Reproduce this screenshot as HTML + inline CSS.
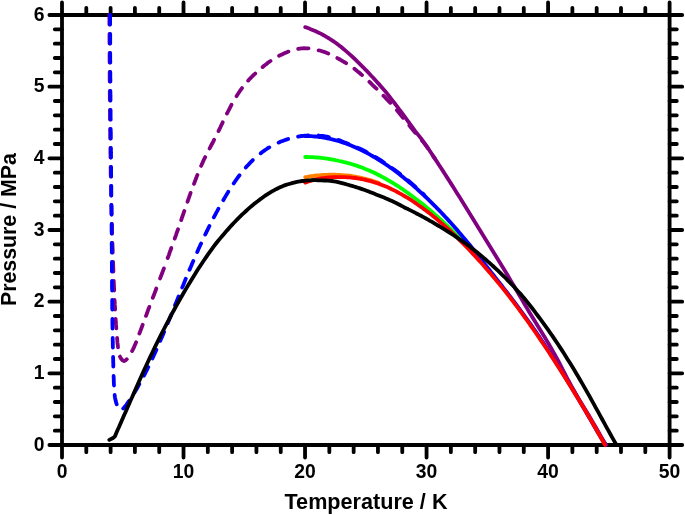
<!DOCTYPE html>
<html lang="en"><head><meta charset="utf-8"><title>Pressure / MPa vs Temperature / K</title>
<style>html,body{margin:0;padding:0;background:#fff;overflow:hidden}svg{display:block}</style>
</head><body>
<svg width="685" height="515" viewBox="0 0 685 515">
<rect width="685" height="515" fill="#fff"/>
<path d="M62.00,445.0v12.6M62.00,15.0v-12.6M86.30,445.0v7.2M86.30,15.0v-7.2M110.61,445.0v7.2M110.61,15.0v-7.2M134.91,445.0v7.2M134.91,15.0v-7.2M159.22,445.0v7.2M159.22,15.0v-7.2M183.52,445.0v12.6M183.52,15.0v-12.6M207.82,445.0v7.2M207.82,15.0v-7.2M232.13,445.0v7.2M232.13,15.0v-7.2M256.43,445.0v7.2M256.43,15.0v-7.2M280.74,445.0v7.2M280.74,15.0v-7.2M305.04,445.0v12.6M305.04,15.0v-12.6M329.34,445.0v7.2M329.34,15.0v-7.2M353.65,445.0v7.2M353.65,15.0v-7.2M377.95,445.0v7.2M377.95,15.0v-7.2M402.26,445.0v7.2M402.26,15.0v-7.2M426.56,445.0v12.6M426.56,15.0v-12.6M450.86,445.0v7.2M450.86,15.0v-7.2M475.17,445.0v7.2M475.17,15.0v-7.2M499.47,445.0v7.2M499.47,15.0v-7.2M523.78,445.0v7.2M523.78,15.0v-7.2M548.08,445.0v12.6M548.08,15.0v-12.6M572.38,445.0v7.2M572.38,15.0v-7.2M596.69,445.0v7.2M596.69,15.0v-7.2M620.99,445.0v7.2M620.99,15.0v-7.2M645.30,445.0v7.2M645.30,15.0v-7.2M669.60,445.0v12.6M669.60,15.0v-12.6M62.0,445.00h-12.6M669.6,445.00h12.6M62.0,430.67h-7.2M669.6,430.67h7.2M62.0,416.33h-7.2M669.6,416.33h7.2M62.0,402.00h-7.2M669.6,402.00h7.2M62.0,387.67h-7.2M669.6,387.67h7.2M62.0,373.33h-12.6M669.6,373.33h12.6M62.0,359.00h-7.2M669.6,359.00h7.2M62.0,344.67h-7.2M669.6,344.67h7.2M62.0,330.33h-7.2M669.6,330.33h7.2M62.0,316.00h-7.2M669.6,316.00h7.2M62.0,301.67h-12.6M669.6,301.67h12.6M62.0,287.33h-7.2M669.6,287.33h7.2M62.0,273.00h-7.2M669.6,273.00h7.2M62.0,258.67h-7.2M669.6,258.67h7.2M62.0,244.33h-7.2M669.6,244.33h7.2M62.0,230.00h-12.6M669.6,230.00h12.6M62.0,215.67h-7.2M669.6,215.67h7.2M62.0,201.33h-7.2M669.6,201.33h7.2M62.0,187.00h-7.2M669.6,187.00h7.2M62.0,172.67h-7.2M669.6,172.67h7.2M62.0,158.33h-12.6M669.6,158.33h12.6M62.0,144.00h-7.2M669.6,144.00h7.2M62.0,129.67h-7.2M669.6,129.67h7.2M62.0,115.33h-7.2M669.6,115.33h7.2M62.0,101.00h-7.2M669.6,101.00h7.2M62.0,86.67h-12.6M669.6,86.67h12.6M62.0,72.33h-7.2M669.6,72.33h7.2M62.0,58.00h-7.2M669.6,58.00h7.2M62.0,43.67h-7.2M669.6,43.67h7.2M62.0,29.33h-7.2M669.6,29.33h7.2M62.0,15.00h-12.6M669.6,15.00h12.6" stroke="#000" stroke-width="3.8" stroke-linecap="round" fill="none"/>
<rect x="62.0" y="15.0" width="607.6" height="430.0" fill="none" stroke="#000" stroke-width="3.8" stroke-linejoin="round"/>
<g fill="none" stroke-width="3.8" stroke-linecap="round" stroke-linejoin="round">
<path d="M109.4,15.0 L109.4,17.3 L109.4,19.5 L109.4,21.8 L109.4,24.1 L109.4,24.5M109.5,34.0 L109.5,35.3 L109.5,37.6 L109.5,39.9 L109.5,42.1 L109.5,43.5M109.6,53.0 L109.6,53.4 L109.6,55.7 L109.6,57.9 L109.6,60.2 L109.6,62.4 L109.6,62.5M109.7,72.0 L109.7,73.8 L109.7,76.0 L109.7,78.3 L109.7,80.5 L109.7,81.5M109.8,91.0 L109.8,91.9 L109.8,94.1 L109.8,96.4 L109.8,98.6 L109.9,100.5M109.9,110.0 L110.0,112.2 L110.0,114.5 L110.0,116.8 L110.0,119.0 L110.0,119.5M110.1,129.0 L110.1,130.4 L110.2,132.6 L110.2,134.9 L110.2,137.1 L110.2,138.5M110.4,148.0 L110.4,148.5 L110.4,150.7 L110.4,153.0 L110.5,155.3 L110.5,157.5M110.6,167.0 L110.7,168.9 L110.7,171.1 L110.7,173.4 L110.8,175.7 L110.8,176.5M111.0,186.0 L111.0,187.0 L111.0,189.2 L111.1,191.5 L111.1,193.8 L111.2,195.5M111.4,205.0 L111.4,205.1 L111.4,207.3 L111.5,209.6 L111.5,211.9 L111.6,214.1 L111.6,214.5M111.9,224.0 L111.9,225.4 L112.0,227.7 L112.0,230.0 L112.1,232.2 L112.1,233.5M112.4,243.0 L112.4,243.5 L112.5,245.8 L112.6,248.0 L112.7,250.3 L112.7,252.5M113.1,262.0 L113.1,263.8 L113.2,266.1 L113.3,268.3 L113.4,270.6 L113.4,271.5M113.8,281.0 L113.8,281.9 L113.9,284.1 L114.0,286.4 L114.1,288.6 L114.2,290.5M114.6,300.0 L114.7,302.1 L114.8,304.4 L115.0,306.6 L115.1,308.9 L115.1,309.5M115.6,318.9 L115.7,320.1 L115.9,322.4 L116.0,324.7 L116.2,326.9 L116.3,328.4M117.1,337.9 L117.1,338.4 L117.3,340.7 L117.5,343.0 L117.8,345.3 L118.0,347.4M120.0,356.6 L120.1,356.8 L121.2,358.8 L122.6,360.4 L124.1,361.1 L125.5,360.4 L126.8,359.2M132.1,351.0 L132.7,349.9 L133.7,347.9 L134.6,345.8 L135.5,343.7 L136.1,342.3M139.4,333.5 L139.7,332.8 L140.5,330.6 L141.3,328.5 L142.1,326.3 L142.7,324.7M146.0,315.9 L146.1,315.6 L146.9,313.5 L147.6,311.4 L148.4,309.3 L149.2,307.2 L149.3,306.9M152.8,297.8 L153.2,296.8 L154.0,294.7 L154.8,292.6 L155.6,290.5 L156.3,288.5M160.1,278.5 L160.3,277.9 L161.1,275.8 L161.9,273.7 L162.7,271.6 L163.5,269.5 L163.9,268.4M167.7,258.0 L168.2,256.7 L169.0,254.6 L169.7,252.4 L170.5,250.3 L171.3,248.2 L171.3,248.0M174.7,238.6 L175.1,237.5 L175.9,235.3 L176.6,233.2 L177.4,231.0 L178.0,229.3M181.2,220.1 L181.8,218.2 L182.6,216.0 L183.3,213.9 L184.0,211.8 L184.3,211.0M187.5,201.9 L187.7,201.1 L188.5,199.0 L189.2,196.9 L189.9,194.8 L190.6,192.9M194.0,183.9 L194.6,182.2 L195.4,180.1 L196.2,178.0 L197.0,175.9 L197.4,174.9M201.1,165.9 L201.3,165.5 L202.2,163.5 L203.1,161.4 L204.1,159.3 L205.1,157.3 L205.2,157.1M209.6,148.5 L210.3,147.1 L211.4,145.0 L212.5,143.0 L213.6,140.9 L214.1,139.8M218.5,131.1 L218.6,130.8 L219.6,128.8 L220.6,126.8 L221.5,124.8 L222.5,122.8 L222.7,122.3M227.0,113.5 L227.3,113.0 L228.3,111.0 L229.3,109.1 L230.3,107.1 L231.3,105.2 L231.5,104.8M236.5,96.2 L236.9,95.6 L238.1,93.7 L239.4,91.8 L240.7,89.9 L242.0,88.1M248.2,80.6 L249.4,79.3 L251.0,77.6 L252.6,76.0 L254.3,74.4 L255.2,73.6M262.6,67.1 L262.7,67.0 L264.4,65.5 L266.2,64.2 L267.9,62.8 L269.7,61.5 L270.5,61.0M279.1,55.8 L280.9,54.9 L282.9,54.0 L284.9,53.1 L287.0,52.2 L288.4,51.6M298.2,48.9 L299.7,48.6 L301.9,48.3 L304.1,48.2 L306.3,48.3 L308.5,48.4M318.6,50.3 L319.8,50.5 L322.0,51.2 L324.2,51.9 L326.4,52.7 L328.3,53.5M337.3,58.1 L339.0,59.0 L341.0,60.2 L343.0,61.4 L345.0,62.5 L346.1,63.2M354.4,68.8 L355.9,70.0 L357.6,71.4 L359.4,72.8 L361.0,74.2 L362.1,75.1M369.4,81.8 L370.8,83.2 L372.4,84.8 L374.0,86.3 L375.6,87.9 L376.5,88.7M383.4,95.8 L383.6,95.9 L385.2,97.5 L386.7,99.1 L388.3,100.8 L389.9,102.4 L390.3,102.8M396.9,110.2 L397.0,110.4 L399.0,112.8 L401.0,115.3 L403.0,117.7 L403.1,117.8M409.3,125.4 L411.0,127.6 L413.0,130.1 L415.0,132.5 L415.5,133.0M421.9,140.4 L423.0,141.7 L425.0,144.3 L427.0,146.9 L427.9,148.2M433.3,156.2 L435.0,158.8" stroke="#800080"/>
<path d="M110.1,15.0 L110.1,17.0 L110.1,18.9 L110.1,20.9 L110.1,22.8 L110.1,24.5M110.2,34.0 L110.2,34.6 L110.2,36.5 L110.2,38.5 L110.2,40.4 L110.2,42.4 L110.2,43.5M110.2,53.0 L110.2,54.1 L110.2,56.1 L110.2,58.0 L110.2,60.0 L110.3,61.9 L110.3,62.5M110.3,72.0 L110.3,73.7 L110.3,75.6 L110.3,77.6 L110.4,79.6 L110.4,81.5 L110.4,81.5M110.4,91.0 L110.4,91.3 L110.4,93.3 L110.5,95.3 L110.5,97.2 L110.5,99.2 L110.5,100.5M110.6,110.0 L110.6,111.0 L110.6,112.9 L110.6,114.9 L110.6,116.9 L110.6,118.8 L110.7,119.5M110.7,129.0 L110.7,130.6 L110.8,132.6 L110.8,134.5 L110.8,136.5 L110.8,138.5 L110.8,138.5M110.9,148.0 L110.9,148.3 L110.9,150.2 L110.9,152.2 L111.0,154.2 L111.0,156.1 L111.0,157.5M111.1,167.0 L111.1,167.9 L111.1,169.9 L111.1,171.8 L111.1,173.8 L111.2,175.8 L111.2,176.5M111.3,186.0 L111.3,187.5 L111.3,189.5 L111.3,191.5 L111.3,193.4 L111.3,195.4 L111.3,195.5M111.4,205.0 L111.4,205.2 L111.5,207.2 L111.5,209.1 L111.5,211.1 L111.5,213.0 L111.5,214.5M111.6,224.0 L111.6,224.8 L111.6,226.7 L111.6,228.7 L111.6,230.6 L111.7,232.6 L111.7,233.5M111.7,243.0 L111.7,244.3 L111.8,246.3 L111.8,248.2 L111.8,250.2 L111.8,252.1 L111.8,252.5M111.9,262.0 L111.9,263.8 L111.9,265.8 L111.9,267.7 L111.9,269.7 L111.9,271.5M112.0,281.0 L112.0,281.4 L112.0,283.3 L112.0,285.3 L112.0,287.2 L112.1,289.2 L112.1,290.5M112.2,300.0 L112.2,300.9 L112.2,302.8 L112.2,304.8 L112.2,306.7 L112.2,308.7 L112.3,309.5M112.4,319.0 L112.4,320.4 L112.4,322.4 L112.4,324.3 L112.5,326.3 L112.5,328.3 L112.5,328.5M112.7,338.0 L112.7,338.1 L112.7,340.1 L112.8,342.0 L112.8,344.0 L112.8,346.0 L112.9,347.5M113.1,357.0 L113.1,357.9 L113.2,359.8 L113.2,361.8 L113.3,363.8 L113.3,365.8 L113.3,366.5M113.6,376.0 L113.7,377.8 L113.8,379.8 L113.8,381.8 L113.9,383.8 L114.0,385.5M114.7,395.0 L114.7,395.7 L115.0,397.6 L115.4,399.5 L115.8,401.3 L116.3,403.2 L116.7,404.3M123.2,408.5 L123.9,407.8 L125.2,406.3 L126.5,404.6 L127.7,402.9 L128.9,401.2 L129.2,400.8M134.5,392.6 L135.5,390.9 L136.5,389.2 L137.5,387.5 L138.5,385.7 L139.3,384.2M143.9,375.7 L144.2,375.3 L145.1,373.5 L146.0,371.7 L146.9,370.0 L147.7,368.2 L148.3,367.1M152.4,358.4 L152.9,357.6 L153.7,355.8 L154.5,354.0 L155.3,352.2 L156.1,350.4 L156.4,349.7M160.3,340.9 L160.8,339.6 L161.6,337.8 L162.4,336.0 L163.1,334.2 L163.9,332.4 L164.1,332.0M167.7,323.1 L168.4,321.6 L169.1,319.8 L169.9,318.0 L170.6,316.2 L171.3,314.3 L171.4,314.3M175.0,305.3 L175.0,305.3 L175.7,303.5 L176.5,301.7 L177.2,299.9 L177.9,298.1 L178.6,296.4M182.2,287.5 L182.3,287.3 L183.1,285.5 L183.8,283.7 L184.5,281.9 L185.3,280.1 L185.8,278.7M189.5,269.8 L189.8,269.3 L190.5,267.5 L191.3,265.7 L192.0,263.9 L192.8,262.1 L193.3,260.9M197.2,252.1 L197.5,251.4 L198.3,249.6 L199.1,247.8 L199.9,246.0 L200.7,244.3 L201.1,243.4M205.2,234.6 L205.7,233.7 L206.5,231.9 L207.4,230.1 L208.3,228.4 L209.1,226.6 L209.4,226.0M213.8,217.4 L214.5,216.1 L215.4,214.4 L216.3,212.6 L217.3,210.9 L218.2,209.2 L218.4,208.8M223.3,200.2 L224.1,198.8 L225.1,197.1 L226.1,195.4 L227.1,193.7 L228.2,192.0 L228.3,191.7M233.7,183.4 L234.7,182.0 L235.8,180.3 L237.0,178.7 L238.1,177.1 L239.3,175.5 L239.5,175.3M245.8,167.5 L246.7,166.4 L248.1,165.0 L249.4,163.6 L250.7,162.2 L252.1,160.8 L252.8,160.1M260.7,153.3 L260.8,153.2 L262.3,152.0 L263.9,150.9 L265.5,149.8 L267.1,148.7 L268.7,147.7 L269.3,147.4M278.6,142.6 L279.0,142.4 L280.8,141.6 L282.6,140.9 L284.5,140.2 L286.3,139.6 L288.1,139.0 L288.2,139.0M298.1,136.6 L299.5,136.3 L301.5,136.0 L303.4,135.8 L305.3,135.6 L307.3,135.5 L308.4,135.4M318.7,135.5 L319.1,135.6 L321.0,135.8 L323.0,136.0 L324.9,136.3 L326.9,136.7 L328.8,137.1 L328.9,137.1M338.7,140.0 L340.3,140.6 L342.2,141.4 L344.1,142.2 L346.1,142.9 L348.1,143.7 L348.2,143.7M357.6,147.7 L358.1,147.9 L360.1,148.8 L362.1,149.8 L364.1,150.8 L366.1,151.8 L366.7,152.1M375.5,157.1 L376.1,157.5 L378.1,158.7 L380.1,159.9 L382.1,161.2 L384.0,162.5M392.2,168.2 L394.1,169.5 L396.1,171.0 L398.1,172.5 L400.1,174.1 L400.2,174.2M408.0,180.5 L408.1,180.5 L410.1,182.2 L412.1,183.9 L414.1,185.7 L415.5,187.0M422.9,193.6 L424.1,194.8" stroke="#0000ff"/>
<path d="M305.2,157.0 L307.2,157.0 L309.2,157.1 L311.2,157.1 L313.2,157.2 L315.2,157.4 L317.2,157.5 L319.2,157.7 L321.2,157.9 L323.2,158.1 L325.2,158.4 L327.2,158.7 L329.2,159.0 L331.2,159.3 L333.2,159.7 L335.2,160.1 L337.2,160.5 L339.2,161.0 L341.2,161.4 L343.2,161.9 L345.2,162.3 L347.2,162.9 L349.2,163.4 L351.2,164.0 L353.2,164.6 L355.2,165.2 L357.2,165.9 L359.2,166.6 L361.2,167.3 L363.2,168.1 L365.2,168.9 L367.2,169.7 L369.2,170.5 L371.2,171.4 L373.2,172.3 L375.2,173.3 L377.2,174.3 L379.2,175.3 L381.2,176.3 L383.2,177.4 L385.2,178.5 L387.2,179.6 L389.2,180.8 L391.2,182.0 L393.2,183.2 L395.2,184.5 L397.2,185.7 L399.2,187.0 L401.2,188.4 L403.2,189.7 L405.2,191.1 L407.2,192.5 L409.2,193.9 L411.2,195.4 L413.2,196.9 L415.2,198.4 L417.2,199.9 L419.2,201.5 L421.2,203.1 L423.2,204.6 L425.2,206.2 L427.2,207.9 L429.2,209.5 L431.2,211.2 L433.2,212.9 L435.2,214.7 L437.2,216.4 L439.2,218.2 L441.2,220.0 L443.2,221.9 L445.2,223.8 L447.2,225.6 L449.2,227.6 L451.2,229.5 L453.2,231.5 L455.2,233.5 L457.2,235.5 L459.2,237.5 L461.2,239.6 L463.2,241.7 L465.2,243.8 L467.2,245.9 L469.2,248.1 L471.2,250.3 L473.2,252.5 L475.2,254.8 L477.2,257.0 L479.2,259.3 L481.2,261.6 L483.2,264.0 L485.2,266.3 L487.2,268.7 L489.2,271.1 L490.0,272.1" stroke="#00ff00"/>
<path d="M305.2,136.0 L307.2,136.0 L309.2,136.1 L311.2,136.2 L313.2,136.3 L315.2,136.5 L317.2,136.7 L319.2,137.0 L321.2,137.2 L323.2,137.5 L325.2,137.9 L327.2,138.3 L329.2,138.7 L331.2,139.2 L333.2,139.6 L335.2,140.2 L337.2,140.7 L339.2,141.3 L341.2,142.0 L343.2,142.6 L345.2,143.3 L347.2,144.0 L349.2,144.8 L351.2,145.6 L353.2,146.4 L355.2,147.3 L357.2,148.2 L359.2,149.1 L361.2,150.1 L363.2,151.0 L365.2,152.1 L367.2,153.1 L369.2,154.2 L371.2,155.3 L373.2,156.5 L375.2,157.6 L377.2,158.8 L379.2,160.1 L381.2,161.4 L383.2,162.7 L385.2,164.0 L387.2,165.3 L389.2,166.7 L391.2,168.1 L393.2,169.6 L395.2,171.1 L397.2,172.6 L399.2,174.1 L401.2,175.7 L403.2,177.3 L405.2,178.9 L407.2,180.5 L409.2,182.2 L411.2,183.9 L413.2,185.6 L415.2,187.4 L417.2,189.1 L419.2,191.0 L421.2,192.8 L423.2,194.6 L425.2,196.5 L427.2,198.4 L429.2,200.4 L431.2,202.3 L433.2,204.3 L435.2,206.3 L437.2,208.4 L439.2,210.4 L441.2,212.5 L443.2,214.6 L445.2,216.8 L447.2,218.9 L449.2,221.1 L451.2,223.3 L453.2,225.5 L455.2,227.8 L457.2,230.1 L459.2,232.4 L461.2,234.7 L463.2,237.1 L465.2,239.5 L467.2,241.9 L469.2,244.3 L471.2,246.8 L473.2,249.3 L475.2,251.8 L477.2,254.4 L479.2,257.0 L481.2,259.6 L483.2,262.1 L485.2,264.7 L487.2,267.2 L489.2,269.7 L491.2,272.3 L493.2,274.8 L495.2,277.4 L497.2,279.9 L499.2,282.5 L501.2,285.0 L503.2,287.6 L505.2,290.1 L507.2,292.7 L509.2,295.3 L511.2,297.9 L513.2,300.6 L515.2,303.2 L517.2,305.9 L519.2,308.6 L521.2,311.3 L523.2,314.1 L525.2,316.8 L527.2,319.6 L529.2,322.4 L531.2,325.2 L533.2,328.0 L535.2,330.9 L537.2,333.8 L539.2,336.7 L541.2,339.7 L543.2,342.6 L545.2,345.7 L547.2,348.7 L549.2,351.8 L551.2,354.9 L553.2,358.0 L555.2,361.2 L557.2,364.4 L559.2,367.6 L561.2,370.8 L563.2,374.0 L565.2,377.2 L567.2,380.5 L569.2,383.7 L571.2,387.0 L573.2,390.3 L575.2,393.6 L577.2,396.9 L579.2,400.3 L581.2,403.7 L583.2,407.1 L585.2,410.6 L587.2,414.0 L589.2,417.5 L591.2,420.9 L593.2,424.4 L595.2,427.8 L597.2,431.2 L599.2,434.5 L601.2,437.7 L603.2,440.8 L605.2,443.7 L606.0,444.9" stroke="#0000ff"/>
<path d="M305.2,27.1 L307.2,27.8 L309.2,28.6 L311.2,29.4 L313.2,30.2 L315.2,31.1 L317.2,32.0 L319.2,32.9 L321.2,33.9 L323.2,35.0 L325.2,36.1 L327.2,37.3 L329.2,38.5 L331.2,39.8 L333.2,41.1 L335.2,42.5 L337.2,43.9 L339.2,45.4 L341.2,47.0 L343.2,48.7 L345.2,50.4 L347.2,52.1 L349.2,53.9 L351.2,55.7 L353.2,57.5 L355.2,59.4 L357.2,61.4 L359.2,63.3 L361.2,65.3 L363.2,67.3 L365.2,69.4 L367.2,71.4 L369.2,73.5 L371.2,75.7 L373.2,77.8 L375.2,80.0 L377.2,82.2 L379.2,84.4 L381.2,86.7 L383.2,89.0 L385.2,91.3 L387.2,93.7 L389.2,96.2 L391.2,98.8 L393.2,101.4 L395.2,104.0 L397.2,106.7 L399.2,109.3 L401.2,112.0 L403.2,114.7 L405.2,117.4 L407.2,120.1 L409.2,122.9 L411.2,125.6 L413.2,128.4 L415.2,131.1 L417.2,133.6 L419.2,136.1 L421.2,138.6 L423.2,141.3 L425.2,144.1 L427.2,147.1 L429.2,150.0 L431.2,153.0 L433.2,156.1 L435.2,159.1 L437.2,162.1 L439.2,165.2 L441.2,168.3 L443.2,171.4 L445.2,174.5 L447.2,177.6 L449.2,180.8 L451.2,183.9 L453.2,187.1 L455.2,190.2 L457.2,193.4 L459.2,196.6 L461.2,199.8 L463.2,203.0 L465.2,206.3 L467.2,209.5 L469.2,212.7 L471.2,215.9 L473.2,219.2 L475.2,222.4 L477.2,225.7 L479.2,228.9 L481.2,232.2 L483.2,235.4 L485.2,238.7 L487.2,242.0 L489.2,245.2 L491.2,248.5 L493.2,251.8 L495.2,255.0 L497.2,258.3 L499.2,261.5 L501.2,264.8 L503.2,268.1 L505.2,271.3 L507.2,274.6 L509.2,278.0 L511.2,281.4 L513.2,284.8 L515.2,288.2 L517.2,291.6 L519.2,295.0 L521.2,298.4 L523.2,301.8 L525.2,305.2 L527.2,308.6 L529.2,312.0 L531.2,315.3 L533.2,318.6 L535.2,321.8 L537.2,325.0 L539.2,328.3 L541.2,331.5 L543.2,334.7 L545.2,338.0 L547.2,341.4 L549.2,344.8 L551.2,348.2 L553.2,351.8 L555.2,355.3 L557.2,359.0 L559.2,362.7 L561.2,366.6 L563.2,370.5 L565.2,374.4 L567.2,378.3 L569.2,382.0 L571.2,385.6 L573.2,389.2 L575.2,392.7 L577.2,396.2 L579.2,399.6 L581.2,402.9 L583.2,406.2 L585.2,409.5 L587.2,412.8 L589.2,416.1 L591.2,419.5 L593.2,422.9 L595.2,426.3 L597.2,429.7 L599.2,433.2 L601.2,436.8 L603.2,440.4 L605.2,444.1 L605.8,445.2" stroke="#800080"/>
<path d="M305.2,177.2 L307.2,176.9 L309.2,176.5 L311.2,176.2 L313.2,176.0 L315.2,175.7 L317.2,175.5 L319.2,175.3 L321.2,175.1 L323.2,175.0 L325.2,174.9 L327.2,174.8 L329.2,174.7 L331.2,174.7 L333.2,174.7 L335.2,174.7 L337.2,174.8 L339.2,174.8 L341.2,175.0 L343.2,175.1 L345.2,175.3 L347.2,175.5 L349.2,175.7 L351.2,176.0 L353.2,176.3 L355.2,176.6 L357.2,177.0 L359.2,177.4 L361.2,177.8 L363.2,178.3 L365.2,178.7 L367.2,179.3 L369.2,179.8 L371.2,180.4 L373.2,181.0 L375.2,181.7 L377.2,182.4 L379.0,183.0" stroke="#ff8000"/>
<path d="M305.2,182.6 L307.2,181.9 L309.2,181.3 L311.2,180.7 L313.2,180.1 L315.2,179.6 L317.2,179.2 L319.2,178.8 L321.2,178.4 L323.2,178.1 L325.2,177.8 L327.2,177.6 L329.2,177.4 L331.2,177.3 L333.2,177.2 L335.2,177.1 L337.2,177.1 L339.2,177.1 L341.2,177.1 L343.2,177.1 L345.2,177.2 L347.2,177.3 L349.2,177.4 L351.2,177.6 L353.2,177.8 L355.2,178.0 L357.2,178.3 L359.2,178.7 L361.2,179.0 L363.2,179.4 L365.2,179.8 L367.2,180.3 L369.2,180.8 L371.2,181.4 L373.2,182.0 L375.2,182.6 L377.2,183.2 L379.2,183.9 L381.2,184.7 L383.2,185.5 L385.2,186.3 L387.2,187.1 L389.2,188.0 L391.2,189.0 L393.2,189.9 L395.2,190.9 L397.2,192.0 L399.2,193.1 L401.2,194.2 L403.2,195.3 L405.2,196.5 L407.2,197.7 L409.2,198.9 L411.2,200.2 L413.2,201.5 L415.2,202.9 L417.2,204.3 L419.2,205.7 L421.2,207.1 L423.2,208.6 L425.2,210.0 L427.2,211.5 L429.2,213.1 L431.2,214.6 L433.2,216.2 L435.2,217.8 L437.2,219.5 L439.2,221.2 L441.2,222.9 L443.2,224.6 L445.2,226.4 L447.2,228.2 L449.2,230.0 L451.2,231.9 L453.2,233.8 L455.2,235.7 L457.2,237.6 L459.2,239.6 L461.2,241.6 L463.2,243.6 L465.2,245.6 L467.2,247.7 L469.2,249.8 L471.2,251.9 L473.2,254.1 L475.2,256.2 L477.2,258.4 L479.2,260.6 L481.2,262.8 L483.2,265.1 L485.2,267.4 L487.2,269.7 L489.2,272.0 L491.2,274.3 L493.2,276.7 L495.2,279.1 L497.2,281.5 L499.2,283.9 L501.2,286.4 L503.2,288.8 L505.2,291.3 L507.2,293.9 L509.2,296.4 L511.2,299.0 L513.2,301.6 L515.2,304.3 L517.2,306.9 L519.2,309.6 L521.2,312.3 L523.2,315.1 L525.2,317.8 L527.2,320.6 L529.2,323.4 L531.2,326.3 L533.2,329.1 L535.2,332.0 L537.2,334.9 L539.2,337.9 L541.2,340.8 L543.2,343.8 L545.2,346.8 L547.2,349.8 L549.2,352.8 L551.2,355.9 L553.2,359.0 L555.2,362.0 L557.2,365.2 L559.2,368.3 L561.2,371.4 L563.2,374.6 L565.2,377.8 L567.2,381.0 L569.2,384.2 L571.2,387.4 L573.2,390.7 L575.2,394.0 L577.2,397.3 L579.2,400.6 L581.2,403.9 L583.2,407.3 L585.2,410.6 L587.2,414.0 L589.2,417.4 L591.2,420.8 L593.2,424.3 L595.2,427.7 L597.2,431.2 L599.2,434.7 L601.2,438.2 L603.2,441.7 L605.0,444.9" stroke="#ff0000"/>
<path d="M109.3,439.9 L113.0,438.0 L113.4,437.7 L113.8,437.4 L114.2,437.1 L114.6,436.7 L114.9,436.2 L115.2,435.7 L115.4,435.2 L116.3,433.0 L117.6,430.0 L119.0,427.0 L120.3,424.0 L121.6,421.0 L122.9,418.0 L124.2,415.0 L125.6,412.0 L126.9,409.0 L128.2,406.0 L129.5,403.0 L130.8,400.0 L132.2,397.0 L133.5,394.0 L134.8,391.0 L136.0,388.3 L138.0,383.7 L140.0,379.2 L142.0,374.8 L144.0,370.3 L146.0,366.0 L148.0,361.7 L150.0,357.4 L152.0,353.2 L154.0,349.0 L156.0,344.9 L158.0,340.8 L160.0,336.8 L162.0,332.9 L164.0,329.0 L166.0,325.1 L168.0,321.3 L170.0,317.5 L172.0,313.7 L174.0,310.0 L176.0,306.4 L178.0,302.8 L180.0,299.3 L182.0,295.8 L184.0,292.3 L186.0,288.9 L188.0,285.6 L190.0,282.2 L192.0,278.9 L194.0,275.7 L196.0,272.4 L198.0,269.3 L200.0,266.2 L202.0,263.2 L204.0,260.2 L206.0,257.3 L208.0,254.4 L210.0,251.6 L212.0,248.8 L214.0,246.1 L216.0,243.5 L218.0,241.0 L220.0,238.6 L222.0,236.2 L224.0,233.9 L226.0,231.6 L228.0,229.4 L230.0,227.1 L232.0,224.9 L234.0,222.8 L236.0,220.7 L238.0,218.7 L240.0,216.7 L242.0,214.7 L244.0,212.9 L246.0,211.0 L248.0,209.2 L250.0,207.4 L252.0,205.7 L254.0,204.1 L256.0,202.5 L258.0,201.0 L260.0,199.4 L262.0,198.0 L264.0,196.5 L266.0,195.1 L268.0,193.8 L270.0,192.6 L272.0,191.4 L274.0,190.3 L276.0,189.2 L278.0,188.2 L280.0,187.3 L282.0,186.4 L284.0,185.6 L286.0,184.9 L288.0,184.3 L290.0,183.7 L292.0,183.1 L294.0,182.6 L296.0,182.1 L298.0,181.7 L300.0,181.3 L302.0,181.0 L304.0,180.8 L306.0,180.6 L308.0,180.4 L310.0,180.3 L312.0,180.2 L314.0,180.2 L316.0,180.2 L318.0,180.3 L320.0,180.3 L322.0,180.4 L324.0,180.5 L326.0,180.5 L328.0,180.6 L330.0,180.8 L332.0,181.0 L334.0,181.3 L336.0,181.7 L338.0,182.2 L340.0,182.7 L342.0,183.2 L344.0,183.7 L346.0,184.2 L348.0,184.8 L350.0,185.4 L352.0,185.9 L354.0,186.5 L356.0,187.1 L358.0,187.7 L360.0,188.4 L362.0,189.1 L364.0,189.8 L366.0,190.5 L368.0,191.3 L370.0,192.1 L372.0,192.8 L374.0,193.6 L376.0,194.4 L378.0,195.2 L380.0,196.0 L382.0,196.8 L384.0,197.6 L386.0,198.5 L388.0,199.3 L390.0,200.2 L392.0,201.1 L394.0,202.0 L396.0,202.9 L398.0,204.0 L400.0,205.0 L402.0,206.1 L404.0,207.2 L406.0,208.2 L408.0,209.1 L410.0,210.1 L412.0,211.1 L414.0,212.1 L416.0,213.2 L418.0,214.2 L420.0,215.3 L422.0,216.3 L424.0,217.4 L426.0,218.5 L428.0,219.6 L430.0,220.8 L432.0,221.9 L434.0,223.1 L436.0,224.3 L438.0,225.5 L440.0,226.7 L442.0,227.9 L444.0,229.1 L446.0,230.3 L448.0,231.6 L450.0,232.9 L452.0,234.2 L454.0,235.5 L456.0,236.8 L458.0,238.2 L460.0,239.6 L462.0,241.0 L464.0,242.4 L466.0,243.8 L468.0,245.3 L470.0,246.8 L472.0,248.4 L474.0,249.9 L476.0,251.5 L478.0,253.1 L480.0,254.8 L482.0,256.4 L484.0,258.1 L486.0,259.8 L488.0,261.6 L490.0,263.3 L492.0,265.1 L494.0,267.0 L496.0,268.8 L498.0,270.7 L500.0,272.6 L502.0,274.6 L504.0,276.5 L506.0,278.5 L508.0,280.6 L510.0,282.6 L512.0,284.7 L514.0,286.8 L516.0,289.0 L518.0,291.2 L520.0,293.4 L522.0,295.6 L524.0,298.0 L526.0,300.4 L528.0,302.9 L530.0,305.5 L532.0,308.0 L534.0,310.7 L536.0,313.3 L538.0,316.0 L540.0,318.7 L542.0,321.4 L544.0,324.1 L546.0,326.9 L548.0,329.7 L550.0,332.6 L552.0,335.4 L554.0,338.4 L556.0,341.3 L558.0,344.3 L560.0,347.4 L562.0,350.4 L564.0,353.5 L566.0,356.7 L568.0,359.9 L570.0,363.1 L572.0,366.3 L574.0,369.6 L576.0,372.9 L578.0,376.3 L580.0,379.7 L582.0,383.1 L584.0,386.6 L586.0,390.1 L588.0,393.6 L590.0,397.2 L592.0,400.8 L594.0,404.4 L596.0,408.1 L598.0,411.7 L600.0,415.4 L602.0,419.0 L604.0,422.7 L606.0,426.3 L608.0,429.9 L610.0,433.5 L612.0,437.1 L614.0,440.6 L616.0,444.1 L616.2,444.5" stroke="#000"/>
</g>
<g font-family="'Liberation Sans', Arial, Helvetica, sans-serif" font-weight="bold" fill="#000">
<g font-size="20.8px" text-anchor="middle">
<text transform="translate(62.0,478.4) scale(0.93,1)">0</text>
<text transform="translate(183.5,478.4) scale(0.93,1)">10</text>
<text transform="translate(305.0,478.4) scale(0.93,1)">20</text>
<text transform="translate(426.6,478.4) scale(0.93,1)">30</text>
<text transform="translate(548.1,478.4) scale(0.93,1)">40</text>
<text transform="translate(669.6,478.4) scale(0.93,1)">50</text>
</g>
<g font-size="20.8px" text-anchor="end">
<text transform="translate(44.4,450.7) scale(0.93,1)">0</text>
<text transform="translate(44.4,379.0) scale(0.93,1)">1</text>
<text transform="translate(44.4,307.4) scale(0.93,1)">2</text>
<text transform="translate(44.4,235.7) scale(0.93,1)">3</text>
<text transform="translate(44.4,164.0) scale(0.93,1)">4</text>
<text transform="translate(44.4,92.4) scale(0.93,1)">5</text>
<text transform="translate(44.4,20.7) scale(0.93,1)">6</text>
</g>
<text transform="translate(366,509.3) scale(0.957,1)" font-size="22.6px" text-anchor="middle">Temperature / K</text>
<text transform="translate(15.8,229.6) rotate(-90) scale(0.945,1)" font-size="22.6px" text-anchor="middle">Pressure / MPa</text>
</g>
</svg>
</body></html>
